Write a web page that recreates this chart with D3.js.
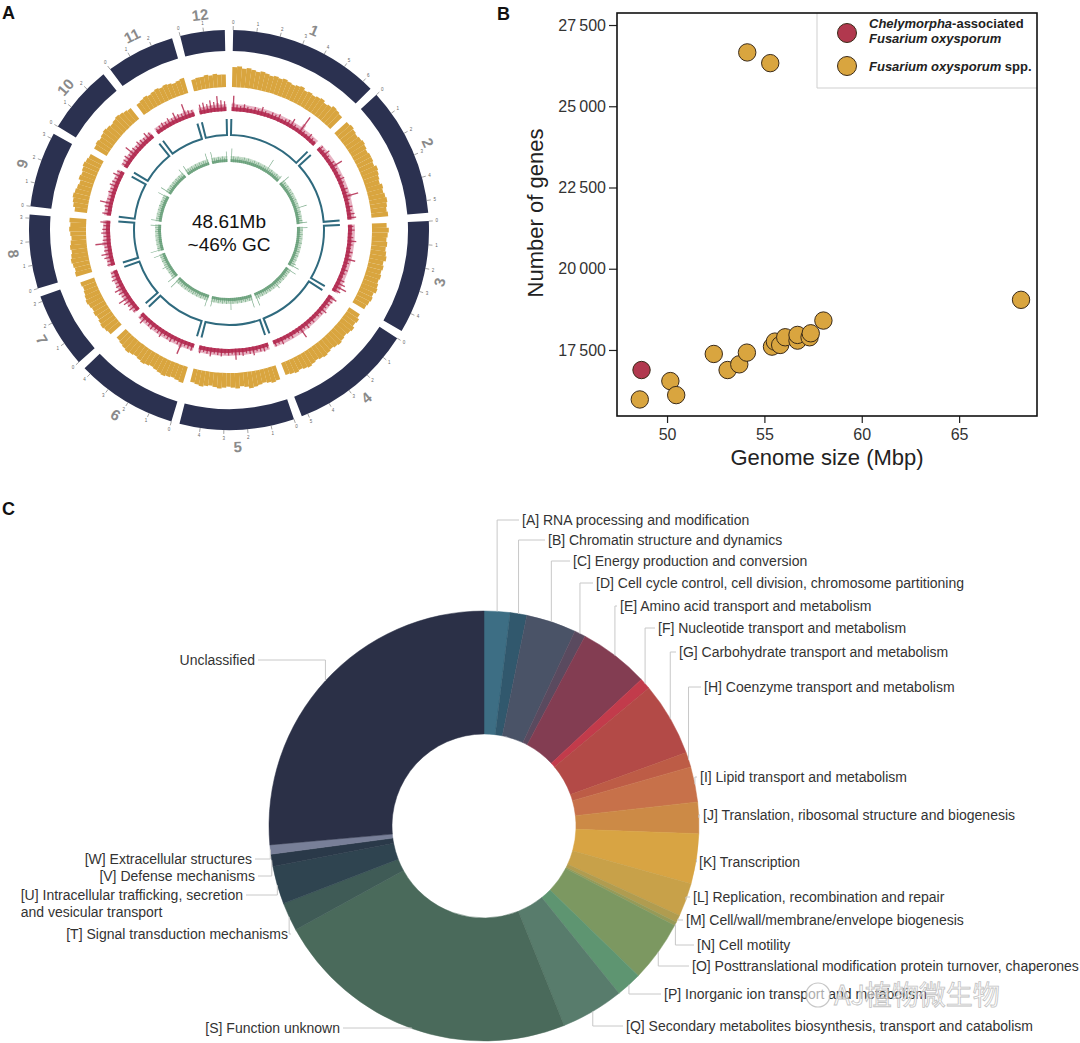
<!DOCTYPE html>
<html>
<head>
<meta charset="utf-8">
<script src="https://cdn.jsdelivr.net/npm/d3@7"></script>
<style>
  body { margin: 0; background: #fff; }
  svg { display: block; font-family: "Liberation Sans", Arial, sans-serif; }
</style>
</head>
<body>
<svg id="fig" width="1080" height="1043"></svg>
<script>
// ---------- Panel A: genome circos ----------
const chromNames = ['1', '2', '3', '4', '5', '6', '7', '8', '9', '10', '11', '12'];
const chromSizes = [6.44, 5.52, 4.83, 5.27, 4.89, 4.33, 3.22, 3.15, 3.22, 2.93, 2.93, 1.90];

// yellow track (outer histogram), one value per 0.25 Mb bin
const gcTrack = [
  [19, 20, 18, 19, 18, 17, 18, 17, 16, 17, 16, 17, 16, 15, 16, 17, 15, 16, 15, 16, 17, 15, 16, 18, 17, 16],
  [16, 17, 16, 15, 16, 17, 16, 15, 16, 16, 15, 17, 16, 15, 14, 16, 15, 16, 17, 16, 15, 16],
  [14, 16, 15, 14, 15, 14, 15, 16, 14, 15, 14, 15, 14, 15, 16, 14, 15, 14, 13],
  [12, 14, 13, 15, 14, 13, 14, 15, 14, 13, 14, 15, 14, 13, 14, 15, 14, 13, 14, 13, 12],
  [14, 15, 14, 13, 14, 15, 16, 14, 13, 15, 14, 13, 14, 15, 14, 13, 14, 15, 14, 13],
  [16, 15, 14, 15, 16, 15, 14, 13, 14, 15, 14, 13, 14, 15, 14, 13, 12],
  [14, 15, 16, 15, 14, 15, 14, 15, 16, 15, 14, 13, 14],
  [16, 15, 16, 17, 16, 15, 16, 15, 14, 15, 16, 15, 16],
  [12, 14, 15, 16, 15, 14, 13, 15, 14, 15, 16, 15, 14],
  [14, 15, 14, 15, 16, 15, 14, 15, 16, 15, 14, 13],
  [12, 13, 14, 13, 14, 15, 14, 15, 14, 13, 14, 15],
  [11, 12, 12, 13, 12, 13, 12, 12]
];

// red track (spiky density)
const repeatTrack = [
  [14, 6, 5, 7, 5, 4, 6, 5, 8, 5, 4, 6, 5, 7, 4, 5, 6, 9, 5, 4, 18, 5, 4, 7, 5, 4],
  [6, 5, 8, 5, 4, 6, 12, 5, 4, 5, 7, 5, 4, 6, 5, 14, 5, 4, 6, 5, 7, 8],
  [5, 6, 4, 5, 8, 5, 4, 6, 5, 10, 5, 4, 6, 5, 4, 7, 9, 12, 8],
  [9, 7, 6, 5, 8, 6, 5, 4, 6, 5, 7, 5, 12, 5, 4, 6, 5, 4, 7, 5, 6],
  [5, 7, 6, 5, 8, 6, 5, 7, 6, 10, 5, 6, 5, 7, 6, 5, 8, 6, 5, 7],
  [7, 6, 5, 14, 6, 5, 7, 6, 5, 8, 6, 5, 7, 6, 5, 9, 6],
  [6, 8, 7, 9, 12, 7, 8, 10, 7, 6, 8, 7, 6],
  [7, 6, 8, 10, 7, 6, 14, 7, 6, 8, 7, 6, 9],
  [8, 6, 7, 12, 6, 5, 7, 6, 8, 7, 6, 9, 7],
  [6, 7, 8, 6, 12, 7, 6, 8, 7, 6, 9, 7],
  [5, 6, 7, 6, 8, 6, 10, 7, 6, 14, 7, 6],
  [9, 10, 8, 11, 9, 14, 10, 9]
];

// green track (inner spikes)
const variantTrack = [
  [9, 4, 3, 4, 3, 3, 4, 3, 4, 3, 3, 4, 3, 4, 3, 3, 4, 3, 10, 3, 4, 3, 3, 4, 3, 5],
  [8, 4, 3, 4, 3, 4, 3, 4, 3, 3, 4, 3, 4, 3, 9, 3, 4, 3, 4, 3, 4, 7],
  [7, 4, 3, 4, 3, 4, 3, 4, 3, 4, 3, 4, 3, 4, 3, 4, 3, 5, 8],
  [8, 4, 3, 4, 3, 4, 3, 4, 3, 6, 3, 4, 3, 4, 3, 4, 3, 4, 3, 5, 9],
  [9, 4, 3, 4, 3, 4, 3, 4, 3, 4, 8, 3, 4, 3, 4, 3, 4, 3, 4, 7],
  [8, 4, 3, 4, 3, 4, 3, 4, 3, 4, 3, 4, 3, 4, 3, 4, 9],
  [8, 4, 3, 4, 3, 4, 6, 4, 3, 4, 3, 4, 8],
  [9, 4, 3, 4, 3, 4, 3, 4, 3, 4, 3, 4, 7],
  [7, 4, 3, 4, 3, 4, 3, 4, 3, 4, 3, 4, 8],
  [8, 4, 3, 4, 3, 4, 3, 4, 3, 4, 3, 7],
  [7, 4, 3, 4, 3, 4, 3, 4, 3, 4, 3, 8],
  [8, 4, 3, 4, 3, 4, 3, 7]
];

const genomeLabel = ['48.61Mb', '~46% GC'];

// ---------- Panel B: genome size vs gene count ----------
const strainGenomeSize = [48.69, 48.60, 50.17, 50.47, 52.40, 53.11, 53.71, 54.10, 54.12, 55.30,
  55.39, 55.54, 55.81, 56.07, 56.70, 56.70, 57.32, 57.38, 58.03, 68.18];
const strainGeneCount = [16883, 15977, 16543, 16111, 17377, 16883, 17058, 17418, 26657, 26327,
  17603, 17757, 17654, 17891, 17788, 17963, 17891, 18014, 18405, 19043];
const strainGroup = ['chely', 'fo', 'fo', 'fo', 'fo', 'fo', 'fo', 'fo', 'fo', 'fo',
  'fo', 'fo', 'fo', 'fo', 'fo', 'fo', 'fo', 'fo', 'fo', 'fo'];
const xTicksB = [50, 55, 60, 65];
const yTicksB = [17500, 20000, 22500, 25000, 27500];

// ---------- Panel C: COG categories ----------
const cogCodes = ['A', 'B', 'C', 'D', 'E', 'F', 'G', 'H', 'I', 'J', 'K', 'L', 'M', 'N', 'O', 'P', 'Q',
  'S', 'T', 'U', 'V', 'W', 'Unclassified'];
const cogNames = [
  '[A] RNA processing and modification',
  '[B] Chromatin structure and dynamics',
  '[C] Energy production and conversion',
  '[D] Cell cycle control, cell division, chromosome partitioning',
  '[E] Amino acid transport and metabolism',
  '[F] Nucleotide transport and metabolism',
  '[G] Carbohydrate transport and metabolism',
  '[H] Coenzyme transport and metabolism',
  '[I] Lipid transport and metabolism',
  '[J] Translation, ribosomal structure and biogenesis',
  '[K] Transcription',
  '[L] Replication, recombination and repair',
  '[M] Cell/wall/membrane/envelope biogenesis',
  '[N] Cell motility',
  '[O] Posttranslational modification protein turnover, chaperones',
  '[P] Inorganic ion transport and metabolism',
  '[Q] Secondary metabolites biosynthesis, transport and catabolism',
  '[S] Function unknown',
  '[T] Signal transduction mechanisms',
  '[U] Intracellular trafficking, secretion|and vesicular transport',
  '[V] Defense mechanisms',
  '[W] Extracellular structures',
  'Unclassified'
];
const cogCounts = [328, 211, 633, 141, 891, 141, 938, 188, 446, 399, 633, 422, 94, 47, 774, 328, 797,
  3892, 361, 483, 155, 117, 4455];
const cogColors = ['#3d6e84', '#31586d', '#4a5367', '#5a4a5f', '#833d52', '#c23b4b', '#b34a47', '#bd5c46',
  '#c7714a', '#cc8a46', '#d8a443', '#c8a149', '#b09c50', '#969a58', '#7c9861', '#5e9571', '#587c6c',
  '#4a6a5b', '#3f5b56', '#2f4450', '#2a3949', '#787f98', '#2b3047'];
// label placement: [x, y, side]
const cogLabelPos = [
  [522, 520, 'r'], [548, 540, 'r'], [573, 561, 'r'], [596, 583, 'r'], [620, 606, 'r'], [658, 628, 'r'],
  [679, 652, 'r'], [704, 687, 'r'], [700, 777, 'r'], [703, 815, 'r'], [699, 862, 'r'], [693, 897, 'r'],
  [686, 920, 'r'], [697, 945, 'r'], [692, 966, 'r'], [664, 994, 'r'], [626, 1026, 'r'],
  [340, 1028, 'l'], [288, 934, 'l'], [243, 895, 'l'], [255, 876, 'l'], [252, 859, 'l'], [255, 660, 'l']
];

const svg = d3.select('#fig');
const rad = d => d * Math.PI / 180;

// Panel letters.
[['A', 2, 19], ['B', 497, 20], ['C', 2, 515]].forEach(([t, x, y]) => {
  svg.append('text').attr('x', x).attr('y', y).text(t)
    .attr('font-size', 18).attr('font-weight', 'bold').attr('fill', '#111');
});

// ===== Panel A =====
const cA = svg.append('g').attr('transform', 'translate(229,230)');
const gapDeg = 2.4;
const degPerMb = (360 - gapDeg * chromSizes.length) / d3.sum(chromSizes);
let acc = gapDeg / 2;
const chroms = chromSizes.map((s, i) => {
  const a0 = acc, a1 = acc + s * degPerMb;
  acc = a1 + gapDeg;
  return { name: chromNames[i], size: s, a0: rad(a0), a1: rad(a1),
    pos: d3.scaleLinear().domain([0, s]).range([rad(a0), rad(a1)]) };
});
const polar = (a, r) => [r * Math.sin(a), -r * Math.cos(a)];

// Karyotype blocks.
cA.append('g').selectAll('path').data(chroms).join('path')
  .attr('d', d => d3.arc()({ innerRadius: 179, outerRadius: 200, startAngle: d.a0, endAngle: d.a1 }))
  .attr('fill', '#2b3150');

// Ticks every 1 Mb.
chroms.forEach(c => {
  const g = cA.append('g');
  d3.range(0, Math.floor(c.size) + 1).forEach(k => {
    const a = c.pos(k);
    const [x1, y1] = polar(a, 200), [x2, y2] = polar(a, 204);
    g.append('line').attr('x1', x1).attr('y1', y1).attr('x2', x2).attr('y2', y2)
      .attr('stroke', '#666').attr('stroke-width', 0.6);
    const [tx, ty] = polar(a, 208);
    g.append('text').attr('x', tx).attr('y', ty).attr('dy', '0.35em')
      .attr('text-anchor', 'middle').attr('font-size', 4.5).attr('fill', '#666').text(k);
  });
});

// Chromosome names.
cA.append('g').selectAll('text').data(chroms).join('text')
  .attr('transform', d => {
    const m = (d.a0 + d.a1) / 2;
    const [x, y] = polar(m, 217);
    let deg = m * 180 / Math.PI;
    if (deg > 90 && deg < 270) deg -= 180;
    return `translate(${x},${y}) rotate(${deg})`;
  })
  .attr('text-anchor', 'middle').attr('dy', '0.35em')
  .attr('font-size', 15).attr('font-weight', 'bold').attr('fill', '#8a8a8a')
  .text(d => d.name);

// Histogram track helper.
function drawTrack(values, base, scale, color, widthFrac, opacity) {
  const g = cA.append('g');
  chroms.forEach((c, i) => {
    const vals = values[i];
    const n = vals.length;
    const step = c.size / n;
    vals.forEach((v, j) => {
      const mid = c.pos((j + 0.5) * step);
      const half = (c.pos(step) - c.pos(0)) / 2 * widthFrac;
      g.append('path')
        .attr('d', d3.arc()({ innerRadius: base, outerRadius: scale(v),
          startAngle: mid - half, endAngle: mid + half }))
        .attr('fill', color).attr('fill-opacity', opacity);
    });
  });
}

function drawBand(r1, r2, color, opacity) {
  cA.append('g').selectAll('path').data(chroms).join('path')
    .attr('d', d => d3.arc()({ innerRadius: r1, outerRadius: r2, startAngle: d.a0, endAngle: d.a1 }))
    .attr('fill', color).attr('fill-opacity', opacity);
}

drawTrack(gcTrack, 143, d3.scaleLinear().domain([0, 20]).range([143, 164]), '#d9a53f', 1.02, 1);

// red track: dense base band + spikes
drawBand(119, 123, '#b3294f', 0.9);
drawBand(123, 126, '#c9577a', 0.45);
drawTrack(repeatTrack, 119, d3.scaleLinear().domain([0, 20]).range([119, 141]), '#b3294f', 0.35, 0.85);
drawTrack(repeatTrack, 119, d3.scaleLinear().domain([0, 20]).range([119, 131]), '#b3294f', 0.9, 0.35);

// Blue chromosome brackets.
cA.append('g').selectAll('path').data(chroms).join('path')
  .attr('d', d => {
    const p = d3.path();
    const [x0, y0] = polar(d.a0, 111);
    const [x1, y1] = polar(d.a0, 95);
    p.moveTo(x0, y0);
    p.lineTo(x1, y1);
    p.arc(0, 0, 95, d.a0 - Math.PI / 2, d.a1 - Math.PI / 2);
    const [x2, y2] = polar(d.a1, 111);
    p.lineTo(x2, y2);
    return p.toString();
  })
  .attr('fill', 'none').attr('stroke', '#2f6a7e').attr('stroke-width', 2);

// green track
drawBand(68, 71, '#5f9a72', 0.85);
drawBand(71, 74, '#8fbb98', 0.5);
drawTrack(variantTrack, 68, d3.scaleLinear().domain([0, 10]).range([68, 83]), '#5f9a72', 0.3, 0.8);

// Centre text.
cA.append('text').attr('text-anchor', 'middle').attr('y', -2)
  .attr('font-size', 19).attr('fill', '#111').text(genomeLabel[0]);
cA.append('text').attr('text-anchor', 'middle').attr('y', 21)
  .attr('font-size', 19).attr('fill', '#111').text(genomeLabel[1]);

// ===== Panel B =====
const x = d3.scaleLinear().domain([47.43, 69.0]).range([617, 1037]);
const y = d3.scaleLinear().domain([15468, 27870]).range([416, 13]);
const gB = svg.append('g');

const xAxis = gB.append('g').attr('transform', 'translate(0,416)')
  .call(d3.axisBottom(x).tickValues(xTicksB).tickSize(7).tickPadding(6));
const yAxis = gB.append('g').attr('transform', 'translate(617,0)')
  .call(d3.axisLeft(y).tickValues(yTicksB).tickSize(8).tickPadding(3)
    .tickFormat(d => d3.format(',')(d).replace(',', '\u2009')));
[xAxis, yAxis].forEach(ax => {
  ax.select('.domain').remove();
  ax.selectAll('line').attr('stroke', '#222').attr('stroke-width', 1.2);
  ax.selectAll('text').attr('font-size', 16).attr('fill', '#333')
    .attr('font-family', '"Liberation Sans", Arial, sans-serif');
});

// Legend box (light border on left and bottom).
gB.append('path').attr('d', 'M817,13 V88 H1037').attr('fill', 'none').attr('stroke', '#cfcfcf');

gB.append('g').selectAll('circle').data(strainGenomeSize.map((s, i) => i)).join('circle')
  .attr('cx', i => x(strainGenomeSize[i])).attr('cy', i => y(strainGeneCount[i]))
  .attr('r', 8.7)
  .attr('fill', i => strainGroup[i] === 'chely' ? '#b1384e' : '#d9a53f')
  .attr('stroke', '#3a2a18').attr('stroke-width', 1);

gB.append('rect').attr('x', 617).attr('y', 13).attr('width', 420).attr('height', 403)
  .attr('fill', 'none').attr('stroke', '#111').attr('stroke-width', 1.6);

const legendItems = [
  { fill: '#b1384e', cy: 33, lines: [[['Chelymorpha', true], ['-associated', false]], [['Fusarium oxysporum', true]]] },
  { fill: '#d9a53f', cy: 66, lines: [[['Fusarium oxysporum', true], [' spp.', false]]] }
];
legendItems.forEach(it => {
  gB.append('circle').attr('cx', 847).attr('cy', it.cy).attr('r', 9.5)
    .attr('fill', it.fill).attr('stroke', '#3a2a18').attr('stroke-width', 1);
  it.lines.forEach((ln, k) => {
    const t = gB.append('text').attr('x', 869)
      .attr('y', it.cy + (it.lines.length === 2 ? (k === 0 ? -5 : 10) : 5))
      .attr('font-size', 13).attr('font-weight', 'bold').attr('fill', '#222');
    ln.forEach(([s, ital]) => t.append('tspan').attr('font-style', ital ? 'italic' : 'normal').text(s));
  });
});

gB.append('text').attr('x', 827).attr('y', 465).attr('text-anchor', 'middle')
  .attr('font-size', 22).attr('fill', '#222').text('Genome size (Mbp)');
gB.append('text').attr('transform', 'translate(543,213) rotate(-90)').attr('text-anchor', 'middle')
  .attr('font-size', 22).attr('fill', '#222').text('Number of genes');

// ===== Panel C =====
const cx = 484, cy = 826, R = 215, r0 = 92;
const gC = svg.append('g');
const pie = d3.pie().sort(null).value(d => d)(cogCounts);
const arcC = d3.arc().innerRadius(r0).outerRadius(R);

gC.append('g').attr('transform', `translate(${cx},${cy})`)
  .selectAll('path').data(pie).join('path')
  .attr('d', arcC)
  .attr('fill', (d, i) => cogColors[i])
  .attr('stroke', (d, i) => cogColors[i]).attr('stroke-width', 0.5);

pie.forEach((p, i) => {
  const mid = (p.startAngle + p.endAngle) / 2;
  const ax = cx + R * Math.sin(mid), ay = cy - R * Math.cos(mid);
  const [lx, ly, side] = cogLabelPos[i];
  const endX = side === 'r' ? lx - 3 : lx + 3;
  gC.append('polyline')
    .attr('points', `${ax},${ay} ${ax},${ly} ${endX},${ly}`)
    .attr('fill', 'none').attr('stroke', '#c8c8c8').attr('stroke-width', 1);
  const parts = cogNames[i].split('|');
  const t = gC.append('text').attr('x', lx).attr('y', ly).attr('dy', '0.35em')
    .attr('text-anchor', side === 'r' ? 'start' : 'end')
    .attr('font-size', 14).attr('fill', '#333').text(parts[0]);
  if (parts.length > 1) {
    const w = t.node().getComputedTextLength();
    gC.append('text').attr('x', lx - w).attr('y', ly + 17).attr('dy', '0.35em')
      .attr('font-size', 14).attr('fill', '#333').text(parts[1]);
  }
});

// Watermark.
const wm = svg.append('g').attr('opacity', 0.85);
wm.append('circle').attr('cx', 818).attr('cy', 995).attr('r', 12)
  .attr('fill', '#fff').attr('fill-opacity', 0.7).attr('stroke', '#bdbdbd').attr('stroke-width', 1.2);
wm.append('text').attr('x', 834).attr('y', 1005)
  .attr('font-family', '"Noto Sans CJK SC", sans-serif').attr('font-size', 27)
  .attr('fill', '#fff').attr('fill-opacity', 0.75).attr('stroke', '#b8b8b8').attr('stroke-width', 0.8)
  .text('AJ植物微生物');
</script>
</body>
</html>
